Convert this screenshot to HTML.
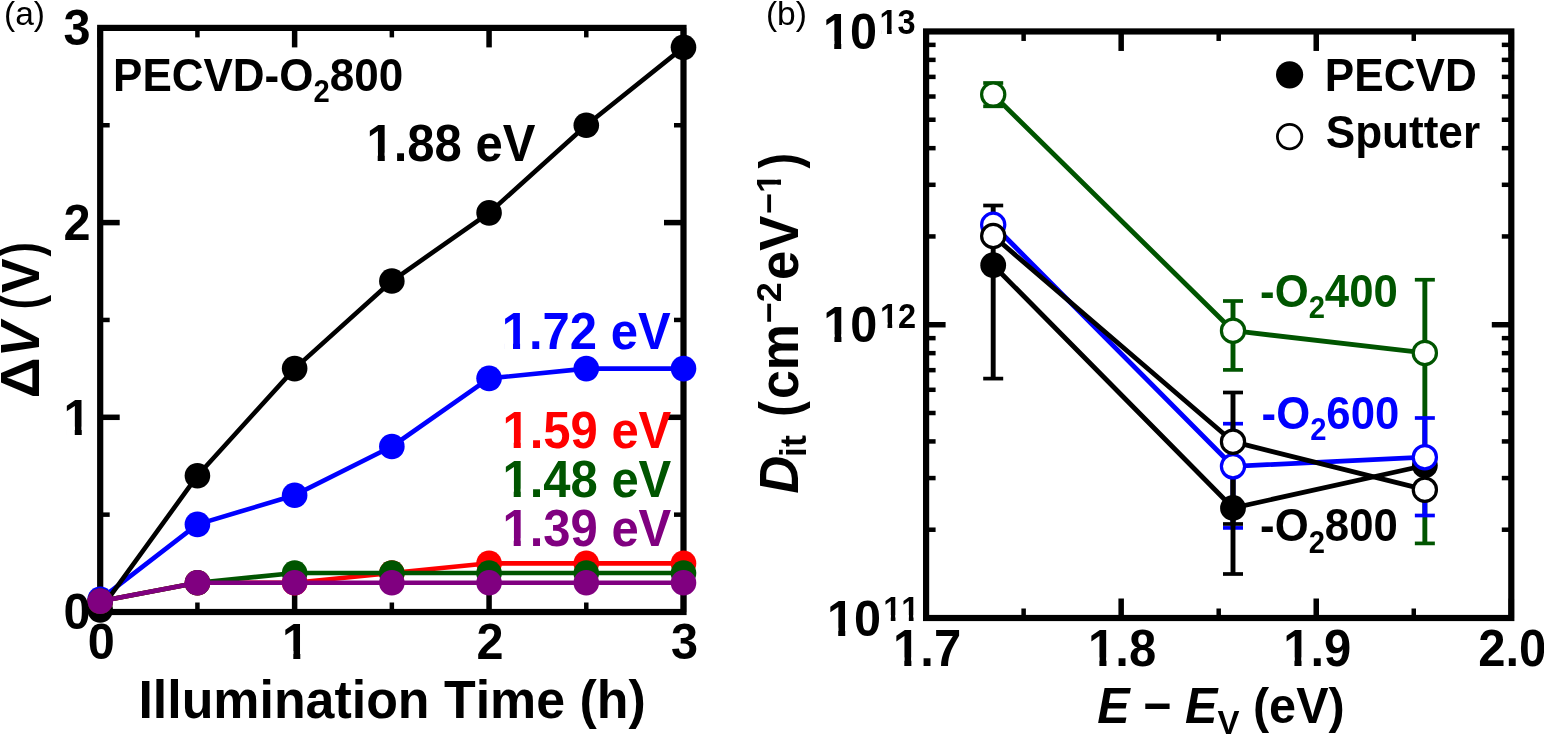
<!DOCTYPE html>
<html><head><meta charset="utf-8"><title>Figure</title><style>html,body{margin:0;padding:0;background:#fff;}svg{display:block;}</style></head><body>
<svg width="1544" height="734" viewBox="0 0 1544 734">
<rect width="100%" height="100%" fill="#fff"/>
<g stroke="#000" fill="none" stroke-linecap="butt">
<line x1="100.20" y1="612.00" x2="100.20" y2="592.50" stroke-width="5.5"/>
<line x1="100.20" y1="27.90" x2="100.20" y2="47.40" stroke-width="5.5"/>
<line x1="197.42" y1="612.00" x2="197.42" y2="602.50" stroke-width="4.5"/>
<line x1="197.42" y1="27.90" x2="197.42" y2="37.40" stroke-width="4.5"/>
<line x1="294.63" y1="612.00" x2="294.63" y2="592.50" stroke-width="5.5"/>
<line x1="294.63" y1="27.90" x2="294.63" y2="47.40" stroke-width="5.5"/>
<line x1="391.85" y1="612.00" x2="391.85" y2="602.50" stroke-width="4.5"/>
<line x1="391.85" y1="27.90" x2="391.85" y2="37.40" stroke-width="4.5"/>
<line x1="489.07" y1="612.00" x2="489.07" y2="592.50" stroke-width="5.5"/>
<line x1="489.07" y1="27.90" x2="489.07" y2="47.40" stroke-width="5.5"/>
<line x1="586.28" y1="612.00" x2="586.28" y2="602.50" stroke-width="4.5"/>
<line x1="586.28" y1="27.90" x2="586.28" y2="37.40" stroke-width="4.5"/>
<line x1="683.50" y1="612.00" x2="683.50" y2="592.50" stroke-width="5.5"/>
<line x1="683.50" y1="27.90" x2="683.50" y2="47.40" stroke-width="5.5"/>
<line x1="100.20" y1="612.00" x2="119.70" y2="612.00" stroke-width="5.5"/>
<line x1="683.50" y1="612.00" x2="664.00" y2="612.00" stroke-width="5.5"/>
<line x1="100.20" y1="514.65" x2="109.70" y2="514.65" stroke-width="4.5"/>
<line x1="683.50" y1="514.65" x2="674.00" y2="514.65" stroke-width="4.5"/>
<line x1="100.20" y1="417.30" x2="119.70" y2="417.30" stroke-width="5.5"/>
<line x1="683.50" y1="417.30" x2="664.00" y2="417.30" stroke-width="5.5"/>
<line x1="100.20" y1="319.95" x2="109.70" y2="319.95" stroke-width="4.5"/>
<line x1="683.50" y1="319.95" x2="674.00" y2="319.95" stroke-width="4.5"/>
<line x1="100.20" y1="222.60" x2="119.70" y2="222.60" stroke-width="5.5"/>
<line x1="683.50" y1="222.60" x2="664.00" y2="222.60" stroke-width="5.5"/>
<line x1="100.20" y1="125.25" x2="109.70" y2="125.25" stroke-width="4.5"/>
<line x1="683.50" y1="125.25" x2="674.00" y2="125.25" stroke-width="4.5"/>
<line x1="100.20" y1="27.90" x2="119.70" y2="27.90" stroke-width="5.5"/>
<line x1="683.50" y1="27.90" x2="664.00" y2="27.90" stroke-width="5.5"/>
<rect x="100.2" y="27.9" width="583.30" height="584.10" stroke-width="6.2"/>
</g>
<polyline points="100.20,599.34 197.42,524.38 294.63,495.18 391.85,446.50 489.07,378.36 586.28,368.62 683.50,368.62" fill="none" stroke="#0000ff" stroke-width="4.6" stroke-linejoin="round"/>
<circle cx="100.20" cy="599.34" r="12.8" fill="#0000ff"/>
<circle cx="197.42" cy="524.38" r="12.8" fill="#0000ff"/>
<circle cx="294.63" cy="495.18" r="12.8" fill="#0000ff"/>
<circle cx="391.85" cy="446.50" r="12.8" fill="#0000ff"/>
<circle cx="489.07" cy="378.36" r="12.8" fill="#0000ff"/>
<circle cx="586.28" cy="368.62" r="12.8" fill="#0000ff"/>
<circle cx="683.50" cy="368.62" r="12.8" fill="#0000ff"/>
<polyline points="100.20,609.86 197.42,475.71 294.63,368.62 391.85,281.01 489.07,212.87 586.28,125.25 683.50,47.37" fill="none" stroke="#000" stroke-width="4.6" stroke-linejoin="round"/>
<circle cx="100.20" cy="609.86" r="12.8" fill="#000"/>
<circle cx="197.42" cy="475.71" r="12.8" fill="#000"/>
<circle cx="294.63" cy="368.62" r="12.8" fill="#000"/>
<circle cx="391.85" cy="281.01" r="12.8" fill="#000"/>
<circle cx="489.07" cy="212.87" r="12.8" fill="#000"/>
<circle cx="586.28" cy="125.25" r="12.8" fill="#000"/>
<circle cx="683.50" cy="47.37" r="12.8" fill="#000"/>
<polyline points="100.20,601.29 197.42,582.79 294.63,582.79 391.85,573.06 489.07,563.33 586.28,563.33 683.50,563.33" fill="none" stroke="#ff0000" stroke-width="4.6" stroke-linejoin="round"/>
<circle cx="100.20" cy="601.29" r="12.8" fill="#ff0000"/>
<circle cx="197.42" cy="582.79" r="12.8" fill="#ff0000"/>
<circle cx="294.63" cy="582.79" r="12.8" fill="#ff0000"/>
<circle cx="391.85" cy="573.06" r="12.8" fill="#ff0000"/>
<circle cx="489.07" cy="563.33" r="12.8" fill="#ff0000"/>
<circle cx="586.28" cy="563.33" r="12.8" fill="#ff0000"/>
<circle cx="683.50" cy="563.33" r="12.8" fill="#ff0000"/>
<polyline points="100.20,601.29 197.42,582.79 294.63,573.06 391.85,573.06 489.07,573.06 586.28,573.06 683.50,573.06" fill="none" stroke="#005500" stroke-width="4.6" stroke-linejoin="round"/>
<circle cx="100.20" cy="601.29" r="12.8" fill="#005500"/>
<circle cx="197.42" cy="582.79" r="12.8" fill="#005500"/>
<circle cx="294.63" cy="573.06" r="12.8" fill="#005500"/>
<circle cx="391.85" cy="573.06" r="12.8" fill="#005500"/>
<circle cx="489.07" cy="573.06" r="12.8" fill="#005500"/>
<circle cx="586.28" cy="573.06" r="12.8" fill="#005500"/>
<circle cx="683.50" cy="573.06" r="12.8" fill="#005500"/>
<polyline points="100.20,601.29 197.42,582.79 294.63,582.79 391.85,582.79 489.07,582.79 586.28,582.79 683.50,582.79" fill="none" stroke="#800080" stroke-width="4.6" stroke-linejoin="round"/>
<circle cx="100.20" cy="601.29" r="12.8" fill="#800080"/>
<circle cx="197.42" cy="582.79" r="12.8" fill="#800080"/>
<circle cx="294.63" cy="582.79" r="12.8" fill="#800080"/>
<circle cx="391.85" cy="582.79" r="12.8" fill="#800080"/>
<circle cx="489.07" cy="582.79" r="12.8" fill="#800080"/>
<circle cx="586.28" cy="582.79" r="12.8" fill="#800080"/>
<circle cx="683.50" cy="582.79" r="12.8" fill="#800080"/>
<g stroke="#000" fill="none" stroke-linecap="butt">
<line x1="926.10" y1="618.00" x2="926.10" y2="598.50" stroke-width="5.5"/>
<line x1="926.10" y1="31.45" x2="926.10" y2="50.95" stroke-width="5.5"/>
<line x1="1023.63" y1="618.00" x2="1023.63" y2="608.50" stroke-width="4.5"/>
<line x1="1023.63" y1="31.45" x2="1023.63" y2="40.95" stroke-width="4.5"/>
<line x1="1121.17" y1="618.00" x2="1121.17" y2="598.50" stroke-width="5.5"/>
<line x1="1121.17" y1="31.45" x2="1121.17" y2="50.95" stroke-width="5.5"/>
<line x1="1218.70" y1="618.00" x2="1218.70" y2="608.50" stroke-width="4.5"/>
<line x1="1218.70" y1="31.45" x2="1218.70" y2="40.95" stroke-width="4.5"/>
<line x1="1316.23" y1="618.00" x2="1316.23" y2="598.50" stroke-width="5.5"/>
<line x1="1316.23" y1="31.45" x2="1316.23" y2="50.95" stroke-width="5.5"/>
<line x1="1413.77" y1="618.00" x2="1413.77" y2="608.50" stroke-width="4.5"/>
<line x1="1413.77" y1="31.45" x2="1413.77" y2="40.95" stroke-width="4.5"/>
<line x1="1511.30" y1="618.00" x2="1511.30" y2="598.50" stroke-width="5.5"/>
<line x1="1511.30" y1="31.45" x2="1511.30" y2="50.95" stroke-width="5.5"/>
<line x1="926.10" y1="618.00" x2="945.60" y2="618.00" stroke-width="5.5"/>
<line x1="1511.30" y1="618.00" x2="1491.80" y2="618.00" stroke-width="5.5"/>
<line x1="926.10" y1="529.72" x2="935.60" y2="529.72" stroke-width="4.5"/>
<line x1="1511.30" y1="529.72" x2="1501.80" y2="529.72" stroke-width="4.5"/>
<line x1="926.10" y1="478.07" x2="935.60" y2="478.07" stroke-width="4.5"/>
<line x1="1511.30" y1="478.07" x2="1501.80" y2="478.07" stroke-width="4.5"/>
<line x1="926.10" y1="441.43" x2="935.60" y2="441.43" stroke-width="4.5"/>
<line x1="1511.30" y1="441.43" x2="1501.80" y2="441.43" stroke-width="4.5"/>
<line x1="926.10" y1="413.01" x2="935.60" y2="413.01" stroke-width="4.5"/>
<line x1="1511.30" y1="413.01" x2="1501.80" y2="413.01" stroke-width="4.5"/>
<line x1="926.10" y1="389.79" x2="935.60" y2="389.79" stroke-width="4.5"/>
<line x1="1511.30" y1="389.79" x2="1501.80" y2="389.79" stroke-width="4.5"/>
<line x1="926.10" y1="370.15" x2="935.60" y2="370.15" stroke-width="4.5"/>
<line x1="1511.30" y1="370.15" x2="1501.80" y2="370.15" stroke-width="4.5"/>
<line x1="926.10" y1="353.15" x2="935.60" y2="353.15" stroke-width="4.5"/>
<line x1="1511.30" y1="353.15" x2="1501.80" y2="353.15" stroke-width="4.5"/>
<line x1="926.10" y1="338.14" x2="935.60" y2="338.14" stroke-width="4.5"/>
<line x1="1511.30" y1="338.14" x2="1501.80" y2="338.14" stroke-width="4.5"/>
<line x1="926.10" y1="324.72" x2="945.60" y2="324.72" stroke-width="5.5"/>
<line x1="1511.30" y1="324.72" x2="1491.80" y2="324.72" stroke-width="5.5"/>
<line x1="926.10" y1="236.44" x2="935.60" y2="236.44" stroke-width="4.5"/>
<line x1="1511.30" y1="236.44" x2="1501.80" y2="236.44" stroke-width="4.5"/>
<line x1="926.10" y1="184.80" x2="935.60" y2="184.80" stroke-width="4.5"/>
<line x1="1511.30" y1="184.80" x2="1501.80" y2="184.80" stroke-width="4.5"/>
<line x1="926.10" y1="148.16" x2="935.60" y2="148.16" stroke-width="4.5"/>
<line x1="1511.30" y1="148.16" x2="1501.80" y2="148.16" stroke-width="4.5"/>
<line x1="926.10" y1="119.73" x2="935.60" y2="119.73" stroke-width="4.5"/>
<line x1="1511.30" y1="119.73" x2="1501.80" y2="119.73" stroke-width="4.5"/>
<line x1="926.10" y1="96.51" x2="935.60" y2="96.51" stroke-width="4.5"/>
<line x1="1511.30" y1="96.51" x2="1501.80" y2="96.51" stroke-width="4.5"/>
<line x1="926.10" y1="76.88" x2="935.60" y2="76.88" stroke-width="4.5"/>
<line x1="1511.30" y1="76.88" x2="1501.80" y2="76.88" stroke-width="4.5"/>
<line x1="926.10" y1="59.87" x2="935.60" y2="59.87" stroke-width="4.5"/>
<line x1="1511.30" y1="59.87" x2="1501.80" y2="59.87" stroke-width="4.5"/>
<line x1="926.10" y1="44.87" x2="935.60" y2="44.87" stroke-width="4.5"/>
<line x1="1511.30" y1="44.87" x2="1501.80" y2="44.87" stroke-width="4.5"/>
<rect x="926.1" y="31.45" width="585.20" height="586.55" stroke-width="6.2"/>
</g>
<g stroke="#005500" stroke-width="4.9" fill="none"><line x1="1424.85" y1="279.75" x2="1424.85" y2="543.4"/><line x1="1414.85" y1="279.75" x2="1434.85" y2="279.75" stroke-width="3.7"/><line x1="1414.85" y1="543.4" x2="1434.85" y2="543.4" stroke-width="3.7"/></g>
<g stroke="#005500" stroke-width="4.9" fill="none"><line x1="1233.0" y1="301.0" x2="1233.0" y2="369.9"/><line x1="1223.0" y1="301.0" x2="1243.0" y2="301.0" stroke-width="3.7"/><line x1="1223.0" y1="369.9" x2="1243.0" y2="369.9" stroke-width="3.7"/></g>
<g stroke="#005500" stroke-width="4.9" fill="none"><line x1="993.2" y1="83.0" x2="993.2" y2="106.3"/><line x1="983.2" y1="83.0" x2="1003.2" y2="83.0" stroke-width="3.7"/><line x1="983.2" y1="106.3" x2="1003.2" y2="106.3" stroke-width="3.7"/></g>
<g stroke="#0000ff" stroke-width="4.9" fill="none"><line x1="1424.85" y1="418.0" x2="1424.85" y2="515.5"/><line x1="1414.85" y1="418.0" x2="1434.85" y2="418.0" stroke-width="3.7"/><line x1="1414.85" y1="515.5" x2="1434.85" y2="515.5" stroke-width="3.7"/></g>
<g stroke="#0000ff" stroke-width="4.9" fill="none"><line x1="1233.0" y1="423.7" x2="1233.0" y2="527.9"/><line x1="1223.0" y1="423.7" x2="1243.0" y2="423.7" stroke-width="3.7"/><line x1="1223.0" y1="527.9" x2="1243.0" y2="527.9" stroke-width="3.7"/></g>
<g stroke="#000" stroke-width="4.9" fill="none"><line x1="993.2" y1="205.5" x2="993.2" y2="378.6"/><line x1="983.2" y1="205.5" x2="1003.2" y2="205.5" stroke-width="3.7"/><line x1="983.2" y1="378.6" x2="1003.2" y2="378.6" stroke-width="3.7"/></g>
<g stroke="#000" stroke-width="4.9" fill="none"><line x1="1233.0" y1="464.9" x2="1233.0" y2="574.0"/><line x1="1223.0" y1="464.9" x2="1243.0" y2="464.9" stroke-width="3.7"/><line x1="1223.0" y1="574.0" x2="1243.0" y2="574.0" stroke-width="3.7"/></g>
<g stroke="#000" stroke-width="4.9" fill="none"><line x1="1233.0" y1="392.5" x2="1233.0" y2="524.0"/><line x1="1223.0" y1="392.5" x2="1243.0" y2="392.5" stroke-width="3.7"/><line x1="1223.0" y1="524.0" x2="1243.0" y2="524.0" stroke-width="3.7"/></g>
<polyline points="993.2,94.6 1233.0,330.7 1424.85,352.9" fill="none" stroke="#005500" stroke-width="4.8" stroke-linejoin="round"/>
<polyline points="993.2,224.8 1233.0,466.3 1424.85,457.2" fill="none" stroke="#0000ff" stroke-width="4.8" stroke-linejoin="round"/>
<polyline points="993.2,265.2 1233.0,508.0 1424.85,465.5" fill="none" stroke="#000" stroke-width="4.8" stroke-linejoin="round"/>
<polyline points="993.2,236.0 1233.0,441.7 1424.85,489.7" fill="none" stroke="#000" stroke-width="4.8" stroke-linejoin="round"/>
<circle cx="993.2" cy="265.2" r="12.9" fill="#000"/>
<circle cx="1233.0" cy="508.0" r="12.9" fill="#000"/>
<circle cx="1424.85" cy="465.5" r="12.9" fill="#000"/>
<circle cx="993.2" cy="224.8" r="11.6" fill="#fff" stroke="#0000ff" stroke-width="3.2"/>
<circle cx="1233.0" cy="466.3" r="11.6" fill="#fff" stroke="#0000ff" stroke-width="3.2"/>
<circle cx="1424.85" cy="457.2" r="11.6" fill="#fff" stroke="#0000ff" stroke-width="3.2"/>
<circle cx="993.2" cy="236.0" r="11.6" fill="#fff" stroke="#000" stroke-width="3.2"/>
<circle cx="1233.0" cy="441.7" r="11.6" fill="#fff" stroke="#000" stroke-width="3.2"/>
<circle cx="1424.85" cy="489.7" r="11.6" fill="#fff" stroke="#000" stroke-width="3.2"/>
<circle cx="993.2" cy="94.6" r="11.6" fill="#fff" stroke="#005500" stroke-width="3.2"/>
<circle cx="1233.0" cy="330.7" r="11.6" fill="#fff" stroke="#005500" stroke-width="3.2"/>
<circle cx="1424.85" cy="352.9" r="11.6" fill="#fff" stroke="#005500" stroke-width="3.2"/>
<circle cx="1289.6" cy="74.8" r="13.6" fill="#000"/>
<circle cx="1289.6" cy="136.6" r="12.2" fill="#fff" stroke="#000" stroke-width="2.8"/>
<g font-family="'Liberation Sans', Arial, Helvetica, sans-serif" font-weight="bold" fill="#000" style="font-kerning:none">
<text transform="translate(4.02,24.97)" font-size="33.5" fill="#000" font-weight="normal" text-anchor="start" >(a)</text>
<text transform="translate(765.92,24.97)" font-size="33.5" fill="#000" font-weight="normal" text-anchor="start" >(b)</text>
<text transform="translate(101.20,658.80) scale(1.000,1.010)" font-size="48.6" fill="#000" font-weight="bold" text-anchor="middle" >0</text>
<text transform="translate(295.63,658.80) scale(1.000,1.010)" font-size="48.6" fill="#000" font-weight="bold" text-anchor="middle" >1</text>
<g transform="translate(295.63,658.80) scale(1.000,1.010)" fill="#fff"><rect x="-11.08" y="-7.78" width="8.75" height="8.50"/><rect x="4.67" y="-7.78" width="8.26" height="8.50"/></g>
<text transform="translate(490.07,658.80) scale(1.000,1.010)" font-size="48.6" fill="#000" font-weight="bold" text-anchor="middle" >2</text>
<text transform="translate(684.50,658.80) scale(1.000,1.010)" font-size="48.6" fill="#000" font-weight="bold" text-anchor="middle" >3</text>
<text transform="translate(90.60,629.30) scale(1.000,1.030)" font-size="48.6" fill="#000" font-weight="bold" text-anchor="end" >0</text>
<text transform="translate(90.60,434.60) scale(1.000,1.030)" font-size="48.6" fill="#000" font-weight="bold" text-anchor="end" >1</text>
<g transform="translate(90.60,434.60) scale(1.000,1.030)" fill="#fff"><rect x="-24.59" y="-7.78" width="8.75" height="8.50"/><rect x="-8.85" y="-7.78" width="8.26" height="8.50"/></g>
<text transform="translate(90.60,239.90) scale(1.000,1.030)" font-size="48.6" fill="#000" font-weight="bold" text-anchor="end" >2</text>
<text transform="translate(90.60,45.20) scale(1.000,1.030)" font-size="48.6" fill="#000" font-weight="bold" text-anchor="end" >3</text>
<text transform="translate(138.43,718.10) scale(1.000,1.030)" font-size="51.9" fill="#000" font-weight="bold" text-anchor="start" >Illumination Time (h)</text>
<text transform="translate(39.40,398.23) rotate(-90) scale(1.083,1.040)" font-size="52.5" fill="#000" font-weight="bold" text-anchor="start" >&#916;</text>
<text transform="translate(39.40,357.26) rotate(-90) scale(1.000,1.040)" font-size="52.5" fill="#000" font-weight="bold" text-anchor="start" font-style="italic" >V</text>
<text transform="translate(39.40,309.48) rotate(-90) scale(0.830,1.040)" font-size="52.5" fill="#000" font-weight="bold" text-anchor="start" >(</text>
<text transform="translate(39.40,292.96) rotate(-90) scale(0.985,1.040)" font-size="52.5" fill="#000" font-weight="bold" text-anchor="start" >V</text>
<text transform="translate(39.40,256.44) rotate(-90) scale(0.830,1.040)" font-size="52.5" fill="#000" font-weight="bold" text-anchor="start" >)</text>
<text transform="translate(113.05,91.20) scale(1.000,1.060)" font-size="44.0" fill="#000" font-weight="bold" text-anchor="start" >PECVD-O<tspan font-size="29.2" dy="10.6">2</tspan><tspan dy="-10.6">800</tspan></text>
<text transform="translate(366.44,160.90) scale(1.000,1.055)" font-size="49.0" fill="#000" font-weight="bold" text-anchor="start" >1.88 eV</text>
<g transform="translate(366.44,160.90) scale(1.000,1.055)" fill="#fff"><rect x="2.45" y="-7.84" width="8.82" height="8.57"/><rect x="18.33" y="-7.84" width="8.33" height="8.57"/></g>
<text transform="translate(501.74,349.05) scale(1.000,1.050)" font-size="49.0" fill="#0000ff" font-weight="bold" text-anchor="start" >1.72 eV</text>
<g transform="translate(501.74,349.05) scale(1.000,1.050)" fill="#fff"><rect x="2.45" y="-7.84" width="8.82" height="8.57"/><rect x="18.33" y="-7.84" width="8.33" height="8.57"/></g>
<text transform="translate(502.44,448.30) scale(1.000,1.050)" font-size="49.0" fill="#ff0000" font-weight="bold" text-anchor="start" >1.59 eV</text>
<g transform="translate(502.44,448.30) scale(1.000,1.050)" fill="#fff"><rect x="2.45" y="-7.84" width="8.82" height="8.57"/><rect x="18.33" y="-7.84" width="8.33" height="8.57"/></g>
<text transform="translate(502.44,496.90) scale(1.000,1.050)" font-size="49.0" fill="#005500" font-weight="bold" text-anchor="start" >1.48 eV</text>
<g transform="translate(502.44,496.90) scale(1.000,1.050)" fill="#fff"><rect x="2.45" y="-7.84" width="8.82" height="8.57"/><rect x="18.33" y="-7.84" width="8.33" height="8.57"/></g>
<text transform="translate(502.44,546.40) scale(1.000,1.050)" font-size="49.0" fill="#800080" font-weight="bold" text-anchor="start" >1.39 eV</text>
<g transform="translate(502.44,546.40) scale(1.000,1.050)" fill="#fff"><rect x="2.45" y="-7.84" width="8.82" height="8.57"/><rect x="18.33" y="-7.84" width="8.33" height="8.57"/></g>
<text transform="translate(927.10,665.50) scale(1.000,1.040)" font-size="49" fill="#000" font-weight="bold" text-anchor="middle" >1.7</text>
<g transform="translate(927.10,665.50) scale(1.000,1.040)" fill="#fff"><rect x="-31.61" y="-7.84" width="8.82" height="8.57"/><rect x="-15.73" y="-7.84" width="8.33" height="8.57"/></g>
<text transform="translate(1122.17,665.50) scale(1.000,1.040)" font-size="49" fill="#000" font-weight="bold" text-anchor="middle" >1.8</text>
<g transform="translate(1122.17,665.50) scale(1.000,1.040)" fill="#fff"><rect x="-31.61" y="-7.84" width="8.82" height="8.57"/><rect x="-15.73" y="-7.84" width="8.33" height="8.57"/></g>
<text transform="translate(1317.23,665.50) scale(1.000,1.040)" font-size="49" fill="#000" font-weight="bold" text-anchor="middle" >1.9</text>
<g transform="translate(1317.23,665.50) scale(1.000,1.040)" fill="#fff"><rect x="-31.61" y="-7.84" width="8.82" height="8.57"/><rect x="-15.73" y="-7.84" width="8.33" height="8.57"/></g>
<text transform="translate(1512.30,665.50) scale(1.000,1.040)" font-size="49" fill="#000" font-weight="bold" text-anchor="middle" >2.0</text>
<text transform="translate(823.05,49.00) scale(1.000,1.040)" font-size="48.6" fill="#000" font-weight="bold" text-anchor="start" >10</text>
<g transform="translate(823.05,49.00) scale(1.000,1.040)" fill="#fff"><rect x="2.43" y="-7.78" width="8.75" height="8.50"/><rect x="18.18" y="-7.78" width="8.26" height="8.50"/></g>
<text transform="translate(879.53,34.40) scale(1.000,1.060)" font-size="32.5" fill="#000" font-weight="bold" text-anchor="start" >13</text>
<g transform="translate(879.53,34.40) scale(1.000,1.060)" fill="#fff"><rect x="1.62" y="-5.20" width="5.85" height="5.69"/><rect x="12.15" y="-5.20" width="5.53" height="5.69"/></g>
<text transform="translate(823.25,342.45) scale(1.000,1.040)" font-size="48.6" fill="#000" font-weight="bold" text-anchor="start" >10</text>
<g transform="translate(823.25,342.45) scale(1.000,1.040)" fill="#fff"><rect x="2.43" y="-7.78" width="8.75" height="8.50"/><rect x="18.18" y="-7.78" width="8.26" height="8.50"/></g>
<text transform="translate(880.06,328.00) scale(1.000,1.060)" font-size="32.5" fill="#000" font-weight="bold" text-anchor="start" >12</text>
<g transform="translate(880.06,328.00) scale(1.000,1.060)" fill="#fff"><rect x="1.62" y="-5.20" width="5.85" height="5.69"/><rect x="12.15" y="-5.20" width="5.53" height="5.69"/></g>
<text transform="translate(827.05,635.80) scale(1.000,1.040)" font-size="48.6" fill="#000" font-weight="bold" text-anchor="start" >10</text>
<g transform="translate(827.05,635.80) scale(1.000,1.040)" fill="#fff"><rect x="2.43" y="-7.78" width="8.75" height="8.50"/><rect x="18.18" y="-7.78" width="8.26" height="8.50"/></g>
<text transform="translate(883.30,620.50) scale(1.000,1.060)" font-size="32.5" fill="#000" font-weight="bold" text-anchor="start" >11</text>
<g transform="translate(883.30,620.50) scale(1.000,1.060)" fill="#fff"><rect x="1.62" y="-5.20" width="5.85" height="5.69"/><rect x="12.15" y="-5.20" width="5.53" height="5.69"/><rect x="19.70" y="-5.20" width="5.85" height="5.69"/><rect x="30.23" y="-5.20" width="5.53" height="5.69"/></g>
<text transform="translate(1097.24,722.50) scale(1.000,1.035)" font-size="48.6" fill="#000" font-weight="bold" text-anchor="start" ><tspan font-style="italic">E</tspan> &#8722; <tspan font-style="italic">E</tspan><tspan font-size="33" dy="11">V</tspan><tspan dy="-11"> (eV)</tspan></text>
<text transform="translate(798.40,493.84) rotate(-90) scale(1.000,1.040)" font-size="52.5" fill="#000" font-weight="bold" text-anchor="start" font-style="italic" >D</text>
<text transform="translate(805.50,456.88) rotate(-90) scale(1.000,1.040)" font-size="35.5" fill="#000" font-weight="bold" text-anchor="start" >it</text>
<text transform="translate(798.40,416.73) rotate(-90) scale(0.880,1.040)" font-size="53.0" fill="#000" font-weight="bold" text-anchor="start" >(</text>
<text transform="translate(798.40,399.03) rotate(-90) scale(0.980,1.040)" font-size="53.0" fill="#000" font-weight="bold" text-anchor="start" >cm</text>
<text transform="translate(780.50,323.21) rotate(-90) scale(1.030,1.000)" font-size="35" fill="#000" font-weight="bold" text-anchor="start" >&#8722;2</text>
<text transform="translate(798.40,280.07) rotate(-90) scale(0.995,1.040)" font-size="53.0" fill="#000" font-weight="bold" text-anchor="start" >eV</text>
<text transform="translate(780.50,214.11) rotate(-90) scale(1.030,1.000)" font-size="35" fill="#000" font-weight="bold" text-anchor="start" >&#8722;1</text>
<g transform="translate(780.50,214.11) rotate(-90) scale(1.030,1.000)" fill="#fff"><rect x="22.19" y="-5.60" width="6.30" height="6.12"/><rect x="33.53" y="-5.60" width="5.95" height="6.12"/></g>
<text transform="translate(798.40,168.45) rotate(-90) scale(0.880,1.040)" font-size="53.0" fill="#000" font-weight="bold" text-anchor="start" >)</text>
<text transform="translate(1324.85,90.80) scale(1.000,1.050)" font-size="44.1" fill="#000" font-weight="bold" text-anchor="start" >PECVD</text>
<text transform="translate(1325.73,148.00) scale(1.000,1.050)" font-size="44.1" fill="#000" font-weight="bold" text-anchor="start" >Sputter</text>
<text transform="translate(1260.10,307.10) scale(1.000,1.057)" font-size="43.7" fill="#005500" font-weight="bold" text-anchor="start" >-O<tspan font-size="29.2" dy="10.7">2</tspan><tspan dy="-10.7">400</tspan></text>
<text transform="translate(1261.60,428.70) scale(1.000,1.057)" font-size="43.7" fill="#0000ff" font-weight="bold" text-anchor="start" >-O<tspan font-size="29.2" dy="10.7">2</tspan><tspan dy="-10.7">600</tspan></text>
<text transform="translate(1260.10,541.40) scale(1.000,1.057)" font-size="43.7" fill="#000" font-weight="bold" text-anchor="start" >-O<tspan font-size="29.2" dy="10.7">2</tspan><tspan dy="-10.7">800</tspan></text>
</g>
</svg>
</body></html>
